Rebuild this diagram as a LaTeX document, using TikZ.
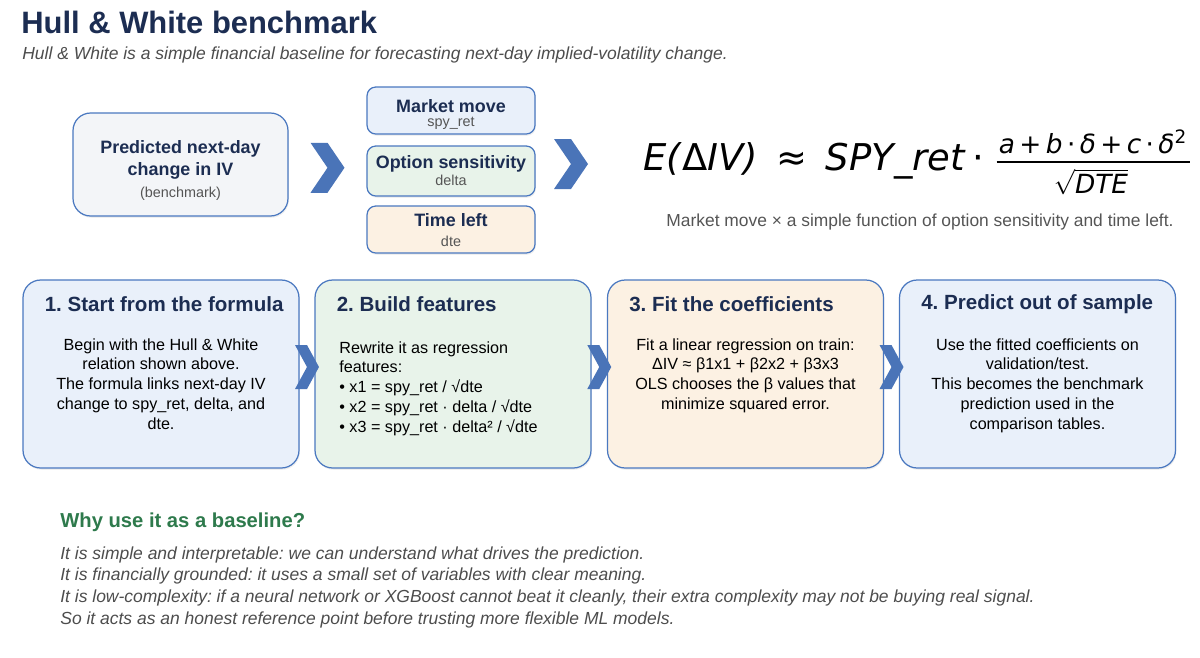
\documentclass[tikz,border=0pt]{standalone}
\usepackage{fontspec}
\setmainfont{Liberation Sans}
\newfontfamily\formfont{DejaVu Sans}
\usetikzlibrary{calc,shadows}
\frenchspacing
\definecolor{navy}{HTML}{1C2D52}
\definecolor{edgeblue}{HTML}{4A78C0}
\definecolor{chevblue}{HTML}{4A74B8}
\definecolor{fillblue}{HTML}{E9F0FA}
\definecolor{fillgray}{HTML}{F3F5F8}
\definecolor{fillgreen}{HTML}{E8F3EA}
\definecolor{fillorange}{HTML}{FCF1E3}
\definecolor{textgray}{HTML}{555555}
\definecolor{subgray}{HTML}{4D4D4D}
\definecolor{whygreen}{HTML}{2E7A4C}
\newcommand\mvar[1]{\textit{#1}}
\tikzset{
  panel/.style={draw=edgeblue, line width=0.7pt, rounded corners=10pt,
    drop shadow={opacity=0.12, shadow xshift=0.5pt, shadow yshift=-1pt}},
  smallpanel/.style={panel, rounded corners=5pt, minimum width=3.36cm},
  steppanel/.style={panel, minimum width=5.52cm, minimum height=3.76cm},
  label/.style={text=navy, font=\fontsize{10.2}{12.5}\selectfont\bfseries, inner sep=0},
  sublabel/.style={text=textgray, font=\fontsize{8.2}{10}\selectfont, inner sep=0},
  steptitle/.style={text=navy, font=\fontsize{11.7}{14}\selectfont\bfseries, inner sep=0, anchor=west},
  stepbody/.style={font=\fontsize{9.2}{11.3}\selectfont, inner sep=0, anchor=north},
  formtext/.style={inner sep=0, font=\fontsize{21}{25}\selectfont\formfont},
  fractext/.style={inner sep=0, font=\fontsize{15}{18}\selectfont\formfont, anchor=base},
  chev/.pic={\fill[chevblue] (-1,-1) -- (0,-1) -- (1,0) -- (0,1) -- (-1,1) -- (0,0) -- cycle;}
}
\begin{document}
\begin{tikzpicture}[x=0.02cm,y=-0.02cm]
\fill[white] (0,0) rectangle (1200,657);
\useasboundingbox (0,0) rectangle (1200,657);

\node[anchor=west, inner sep=0, text=navy, font=\fontsize{17.6}{20}\selectfont\bfseries] (head) at (21,22) {Hull \& White benchmark};
\node[anchor=west, inner sep=0, text=subgray, font=\fontsize{9.95}{12}\selectfont\itshape] (sub) at (22,55) {Hull \& White is a simple financial baseline for forecasting next-day implied-volatility change.};

\node[panel, fill=fillgray, minimum width=4.3cm, minimum height=2.06cm] (pred) at (180.5,164.5) {};
\node[label, align=center] (predtitle) at (180.5,160) {Predicted next-day\\change in IV};
\node[sublabel] (predsub) at (180.5,194) {(benchmark)};

\node[smallpanel, fill=fillblue, minimum height=0.94cm] (mkt) at (451,110.5) {};
\node[label] (mkttitle) at (451,106) {Market move};
\node[sublabel] (mktsub) at (451,123) {spy\_ret};
\node[smallpanel, fill=fillgreen, minimum height=1cm] (opt) at (451,171) {};
\node[label] (opttitle) at (451,164) {Option sensitivity};
\node[sublabel] (optsub) at (451,180) {delta};
\node[smallpanel, fill=fillorange, minimum height=0.94cm] (tleft) at (451,229.5) {};
\node[label] (tlefttitle) at (451,220) {Time left};
\node[sublabel] (tleftsub) at (451,241) {dte};

\pic[xscale=17, yscale=25] at ($(pred.east)!0.5!(opt.west)$) {chev};
\pic[xscale=17, yscale=25] at (571,164) {chev};

\node[formtext, anchor=base west] (formlhs) at (643,170) {\mvar{E(}Δ\mvar{IV)}\hspace{0.5em}≈\hspace{0.5em}\mvar{SPY\_ret}\,·};
\node[fractext] (formnum) at (1093,153) {\mvar{a}\,+\,\mvar{b}\,·\,\mvar{δ}\,+\,\mvar{c}\,·\,\mvar{δ}\textsuperscript{2}};
\node[fractext] (formden) at (1091,193) {$\sqrt{\mbox{\mvar{DTE}}}$};
\draw[line width=0.8pt] ($(formnum.west |- 0,162)+(-2,0)$) -- ($(formnum.east |- 0,162)+(2,0)$);
\node[inner sep=0, text=textgray, font=\fontsize{9.9}{12}\selectfont] (caption) at (920,222) {Market move × a simple function of option sensitivity and time left.};

\node[steppanel, fill=fillblue] (s1) at (161,374) {};
\node[steppanel, fill=fillgreen] (s2) at (453,374) {};
\node[steppanel, fill=fillorange] (s3) at (745.5,374) {};
\node[steppanel, fill=fillblue] (s4) at (1037.5,374) {};

\node[steptitle] (s1title) at ($(s1.west |- 0,304)+(22,0)$) {1. Start from the formula};
\node[steptitle] (s2title) at ($(s2.west |- 0,304)+(22,0)$) {2. Build features};
\node[steptitle] (s3title) at ($(s3.west |- 0,304)+(22,0)$) {3. Fit the coefficients};
\node[steptitle] (s4title) at ($(s4.west |- 0,304)+(22,0)$) {4. Predict out of sample};

\node[stepbody, align=center] (s1body) at (161,338) {Begin with the Hull \& White\\relation shown above.\\The formula links next-day IV\\change to spy\_ret, delta, and\\dte.};
\node[stepbody, align=left, anchor=north west] (s2body) at (339,341) {Rewrite it as regression\\features:\\• x1 = spy\_ret / √dte\\• x2 = spy\_ret · delta / √dte\\• x3 = spy\_ret · delta² / √dte};
\node[stepbody, align=center] (s3body) at (745.5,338) {Fit a linear regression on train:\\ΔIV ≈ β1x1 + β2x2 + β3x3\\OLS chooses the β values that\\minimize squared error.};
\node[stepbody, align=center] (s4body) at (1037.5,338) {Use the fitted coefficients on\\validation/test.\\This becomes the benchmark\\prediction used in the\\comparison tables.};

\pic[xscale=12, yscale=22] at ($(s1.east)!0.5!(s2.west)+(0,-7)$) {chev};
\pic[xscale=12, yscale=22] at ($(s2.east)!0.5!(s3.west)+(0,-7)$) {chev};
\pic[xscale=12, yscale=22] at ($(s3.east)!0.5!(s4.west)+(0,-7)$) {chev};

\node[anchor=west, inner sep=0, text=whygreen, font=\fontsize{11.5}{14}\selectfont\bfseries] (whytitle) at (60,522) {Why use it as a baseline?};
\node[anchor=north west, inner sep=0, align=left, text=subgray, font=\fontsize{9.95}{12.5}\selectfont\itshape] (whytext) at (60,546) {It is simple and interpretable: we can understand what drives the prediction.\\It is financially grounded: it uses a small set of variables with clear meaning.\\It is low-complexity: if a neural network or XGBoost cannot beat it cleanly, their extra complexity may not be buying real signal.\\So it acts as an honest reference point before trusting more flexible ML models.};
\end{tikzpicture}
\end{document}
